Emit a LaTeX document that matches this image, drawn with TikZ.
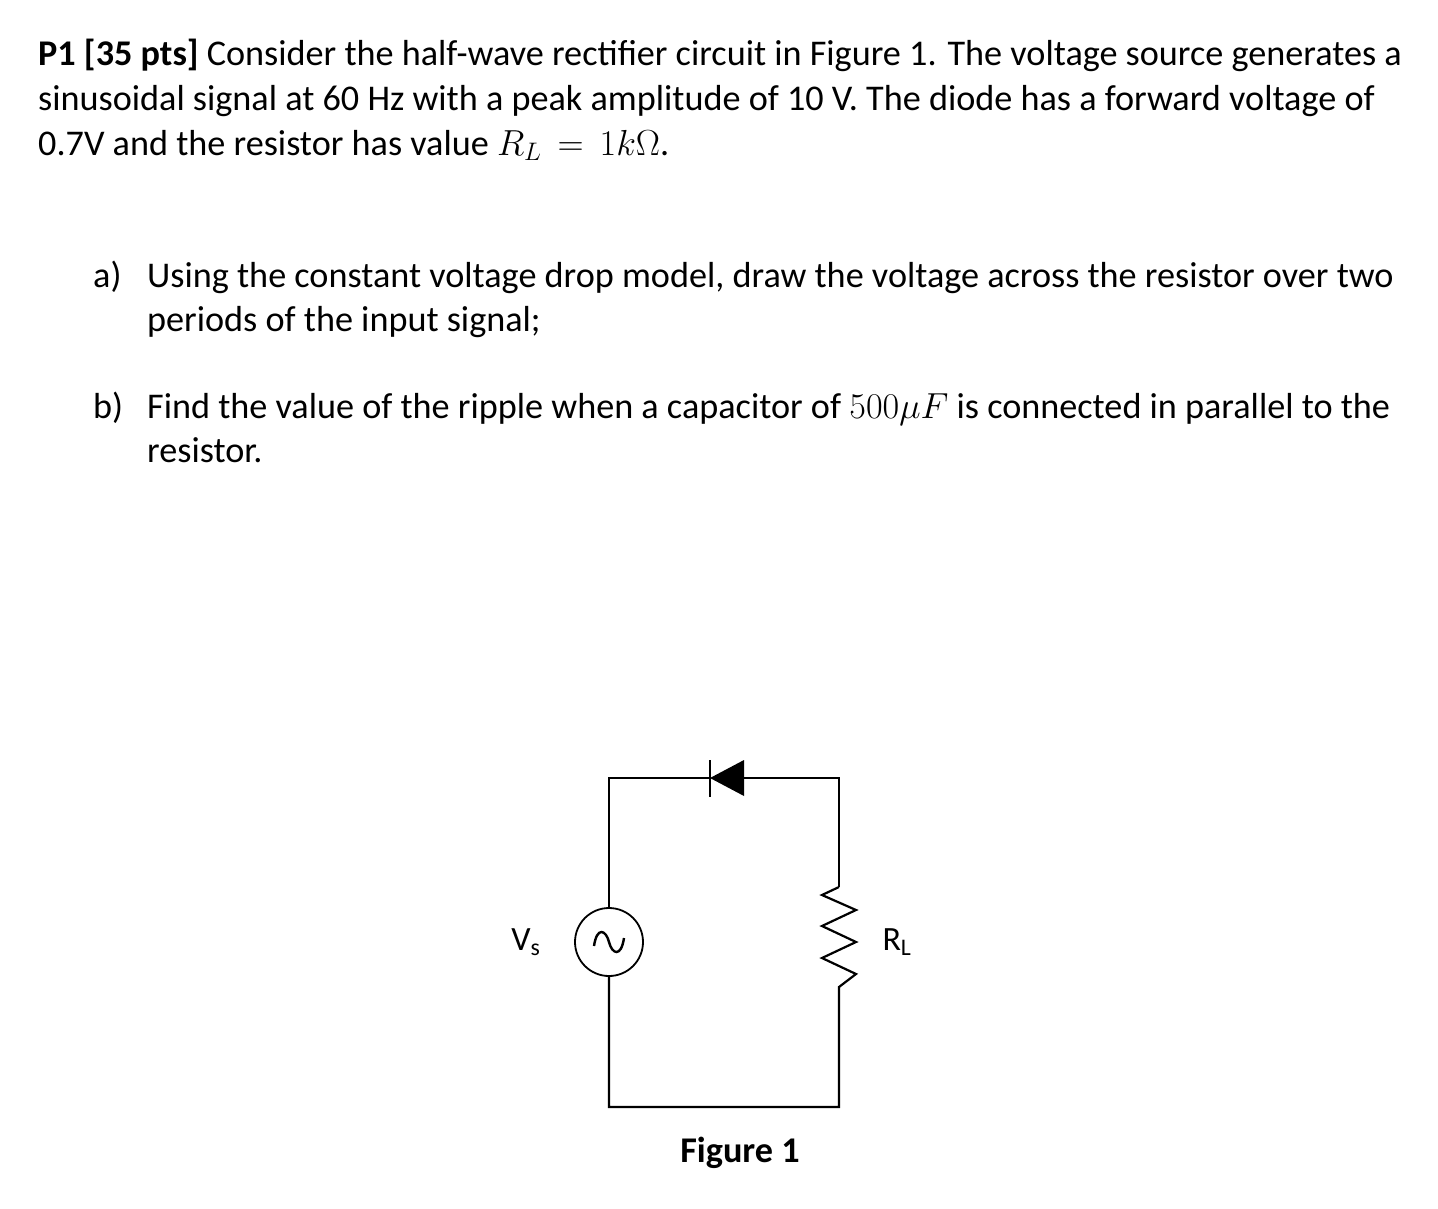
\RequirePackage{fix-cm}
\documentclass[tikz,border=0pt]{standalone}
\usepackage{fontspec}
\setmainfont{Carlito}
\begin{document}
\begin{tikzpicture}[x=1pt,y=-1pt,
  txt/.style={anchor=base west,inner sep=0pt,font=\fontsize{36.2}{42}\selectfont},
  wire/.style={line width=2.2pt,line join=miter},
  hand/.style={font=\fontsize{34}{38}\selectfont}]
\useasboundingbox (0,0) rectangle (1438,1208);
\node[txt] (l1) at (38,65) {\textbf{P1 [35 pts]} Consider the half-wave rectifier circuit in Figure 1. The voltage source generates a};
\node[txt] (l2) at (38,110) {sinusoidal signal at 60 Hz with a peak amplitude of 10 V. The diode has a forward voltage of};
\node[txt] (l3) at (38,155) {0.7V and the resistor has value $R_L\,=\,1k\Omega$.};
\node[txt] (a1) at (93,287) {a)};
\node[txt] (a2) at (147,287) {Using the constant voltage drop model, draw the voltage across the resistor over two};
\node[txt] (a3) at (147,331) {periods of the input signal;};
\node[txt] (b1) at (93,418) {b)};
\node[txt] (b2) at (147,418) {Find the value of the ripple when a capacitor of $500\mu F$ is connected in parallel to the};
\node[txt] (b3) at (147,462) {resistor.};
\node[txt,anchor=base,font=\fontsize{36.2}{42}\selectfont\bfseries] (fig) at (740,1162) {Figure 1};
% circuit
\coordinate (tl) at (609,778); \coordinate (tr) at (839,778);
\coordinate (bl) at (609,1107); \coordinate (br) at (839,1107);
\node[draw,circle,line width=1.8pt,minimum size=68pt,inner sep=0pt] (src) at (609,942) {};
\draw[line width=2.4pt] (594,946) .. controls (597,926) and (606,930) .. (609,942) .. controls (612,954) and (621,958) .. (624,938);
\coordinate (dk) at (710,778); \coordinate (da) at (744,778);
\draw[wire] (src.north) -- (tl) -- (dk);
\draw[wire] (da) -- (tr) -- (839,887);
\fill (dk) -- (744,760) -- (744,796) -- cycle;
\draw[line width=2pt] (710,760) -- (710,797);
\draw[wire,line join=miter] (839,887) -- (822,895) -- (856,910) -- (822,926) -- (856,942) -- (822,958) -- (856,974) -- (839,987) -- (br) -- (bl) -- (src.south);
\node[hand] (vs) at (526,942) {V\textsubscript{s}};
\node[hand] (rl) at (897,942) {R\textsubscript{L}};
\end{tikzpicture}
\end{document}
